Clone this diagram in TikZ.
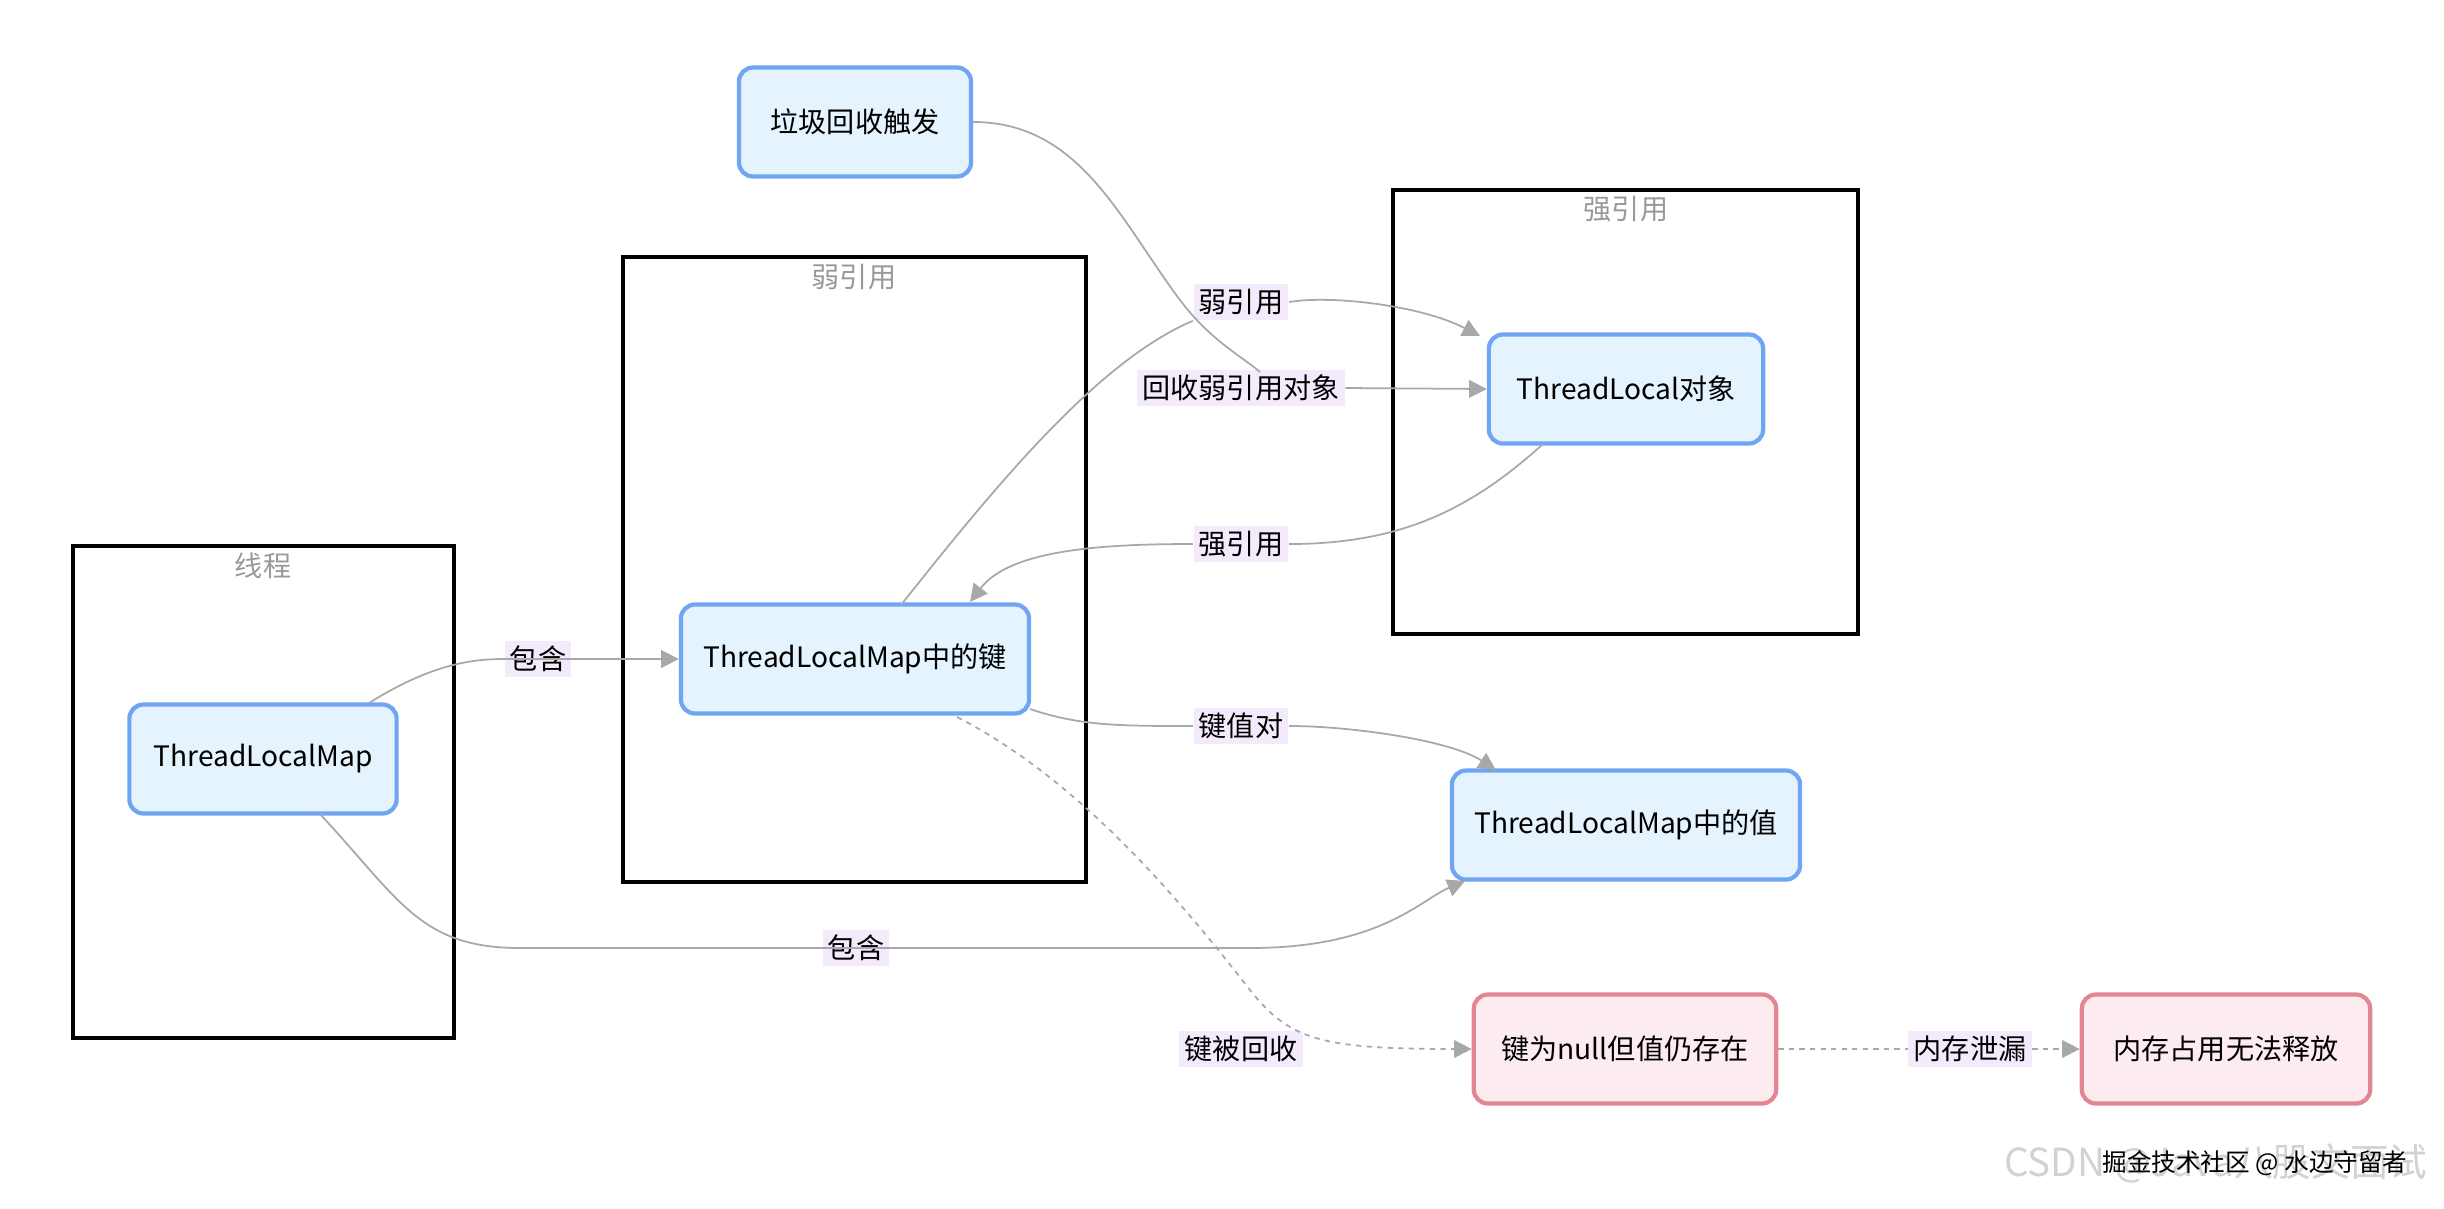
\documentclass[tikz,border=0pt]{standalone}
\usepackage{fontspec}
\setmainfont{Noto Sans CJK SC}
\usetikzlibrary{arrows.meta}
\definecolor{nfill}{HTML}{E4F3FD}
\definecolor{nbord}{HTML}{6FA5F3}
\definecolor{rfill}{HTML}{FDECEF}
\definecolor{rbord}{HTML}{E28693}
\definecolor{lfill}{HTML}{F3EAFC}
\definecolor{edge}{HTML}{A8A8A8}
\tikzset{
 bnode/.style={draw=nbord,fill=nfill,line width=1.2pt,rounded corners=4pt,minimum width=#1,minimum height=31pt,font=\fontsize{8}{10}\selectfont,inner sep=0pt},
 rnode/.style={bnode=#1,draw=rbord,fill=rfill},
 clus/.style={draw=black,line width=1.1pt},
 ctitle/.style={text=gray!80,font=\fontsize{8}{10}\selectfont},
 lbl/.style={fill=lfill,font=\fontsize{8}{10}\selectfont,inner sep=1.5pt},
 conn/.style={draw=edge,line width=0.5pt,-{Triangle[length=5pt,width=5pt,fill=edge]}},
 dconn/.style={conn,dash pattern=on 1.5pt off 1.5pt}
}
\begin{document}
\begin{tikzpicture}[x=0.01cm,y=-0.01cm]
\useasboundingbox (0,0) rectangle (2444,1208);
% clusters
\draw[clus] (73,546) rectangle (454,1038);
\draw[clus] (623,257) rectangle (1086,882);
\draw[clus] (1393,190) rectangle (1858,634);
\node[ctitle] (t1) at (263,566) {线程};
\node[ctitle] (t2) at (854,277) {弱引用};
\node[ctitle] (t3) at (1626,209) {强引用};
% nodes
\node[bnode=76pt] (tlm) at (263,759) {ThreadLocalMap};
\node[bnode=99pt] (key) at (855,659) {ThreadLocalMap中的键};
\node[bnode=66pt] (gc) at (855,122) {垃圾回收触发};
\node[bnode=78pt] (tl) at (1626,389) {ThreadLocal对象};
\node[bnode=99pt] (val) at (1626,825) {ThreadLocalMap中的值};
\node[rnode=86pt] (nul) at (1625,1049) {键为null但值仍存在};
\node[rnode=82pt] (mem) at (2226,1049) {内存占用无法释放};
% labels
\node[lbl] (l1) at (538,659) {包含};
\node[lbl] (l2) at (1241,302) {弱引用};
\node[lbl] (l3) at (1241,388) {回收弱引用对象};
\node[lbl] (l4) at (1241,544) {强引用};
\node[lbl] (l5) at (1241,726) {键值对};
\node[lbl] (l6) at (856,948) {包含};
\node[lbl] (l7) at (1241,1049) {键被回收};
\node[lbl] (l8) at (1970,1049) {内存泄漏};
% edges
\draw[conn] (369,703) .. controls (430,665) and (470,659) .. (l1.west) -- (l1.east) -- (key.west);
\draw[conn] (320,814) .. controls (400,900) and (420,948) .. (520,948) -- (l6.west) -- (l6.east) -- (1250,948) .. controls (1380,948) and (1420,900) .. (1465,881);
\draw[conn] (901,605) .. controls (1000,480) and (1100,360) .. (l2.south west) (l2.east) .. controls (1330,295) and (1420,305) .. (1480,336);
\draw[draw=edge,line width=0.5pt] (l2.west) (l2.west) ++(0,0);
\draw[conn] (gc.east) .. controls (1080,122) and (1120,220) .. (1180,300) .. controls (1210,340) and (1240,355) .. (1260,372) (l3.east) -- (tl.west);
\draw[conn] (1543,444) .. controls (1470,510) and (1400,544) .. (l4.east) (l4.west) .. controls (1100,544) and (1010,550) .. (970,602);
\draw[conn] (1030,709) .. controls (1080,726) and (1120,726) .. (l5.west) (l5.east) .. controls (1350,726) and (1450,740) .. (1496,770);
\draw[dconn] (957,717) .. controls (1080,780) and (1180,900) .. (1250,990) .. controls (1290,1040) and (1320,1049) .. (nul.west);
\draw[dconn] (nul.east) -- (l8.west) (l8.east) -- (mem.west);
% watermarks
\node[text=gray!35,font=\fontsize{11}{13}\selectfont,anchor=east] (w1) at (2440,1163) {CSDN @Java八股文面试};
\node[font=\fontsize{7}{9}\selectfont,anchor=east] (w2) at (2420,1163) {掘金技术社区 @ 水边守留者};
\end{tikzpicture}
\end{document}
